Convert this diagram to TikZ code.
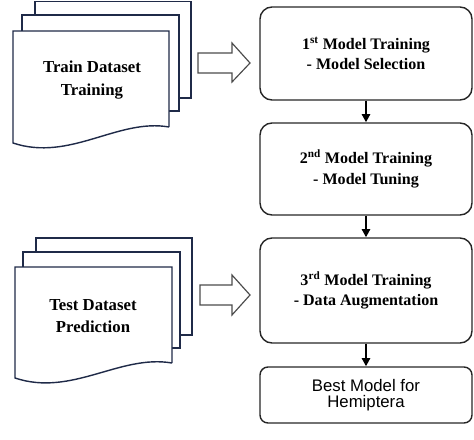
\documentclass[tikz,border=0pt]{standalone}
\usepackage{fontspec}
\setmainfont{Liberation Serif}
\newfontfamily\arialfont{Liberation Sans}
\usetikzlibrary{arrows.meta}
\definecolor{pageblue}{RGB}{31,42,72}
\tikzset{
  page/.style={draw=pageblue,line width=1.2pt,fill=white},
  stepbox/.style={draw=black!85,line width=1.2pt,rounded corners=12*0.03cm,minimum width=212*0.03cm,align=center,
    font=\fontsize{13.7}{17.5}\selectfont\bfseries},
  doctext/.style={align=center,font=\fontsize{14.3}{19}\selectfont\bfseries},
  blockarr/.style={draw=black!70,line width=1pt,fill=white},
  flow/.style={line width=1.7pt,-{Triangle[length=7pt,width=7pt]}}
}
\begin{document}
\begin{tikzpicture}[x=0.03cm,y=-0.03cm]
\useasboundingbox (0,0) rectangle (474,439);

\draw[page] (35,1.5) rectangle (191,98);
\draw[page] (22,15) rectangle (179,111);
\draw[page] (169,127) -- (169,31) -- (13,31) -- (13,143) .. controls (70,162) and (118,118) .. (169,127);
\node[doctext] (TRAIN) at (92,80) {Train Dataset\\Training};

\draw[page] (36,238) rectangle (192,335);
\draw[page] (23,252) rectangle (180,348);
\draw[page] (172,363) -- (172,267) -- (15,267) -- (15,378) .. controls (72,397) and (120,354) .. (172,363);
\node[doctext] (TEST) at (93,316) {Test Dataset\\Prediction};

\node[stepbox,minimum height=93*0.03cm] (M1) at (366,53.5) {1\textsuperscript{st} Model Training\\- Model Selection};
\node[stepbox,minimum height=92*0.03cm] (M2) at (366,169) {2\textsuperscript{nd} Model Training\\- Model Tuning};
\node[stepbox,minimum height=105*0.03cm] (M3) at (366,290.5) {3\textsuperscript{rd} Model Training\\- Data Augmentation};
\node[stepbox,minimum height=56*0.03cm,rounded corners=8*0.03cm,font=\arialfont\fontsize{14.3}{14.2}\selectfont] (BEST) at (366,395) {Best Model for\\Hemiptera};

\draw[flow] (M1) -- (M2);
\draw[flow] (M2) -- (M3);
\draw[flow] (M3) -- (BEST);

\draw[blockarr] (198,53) -- (232,53) -- (232,43) -- (250,63) -- (232,82) -- (232,73) -- (198,73) -- cycle;
\draw[blockarr] (200,285) -- (232,285) -- (232,275) -- (250,295) -- (232,315) -- (232,305) -- (200,305) -- cycle;
\end{tikzpicture}
\end{document}
